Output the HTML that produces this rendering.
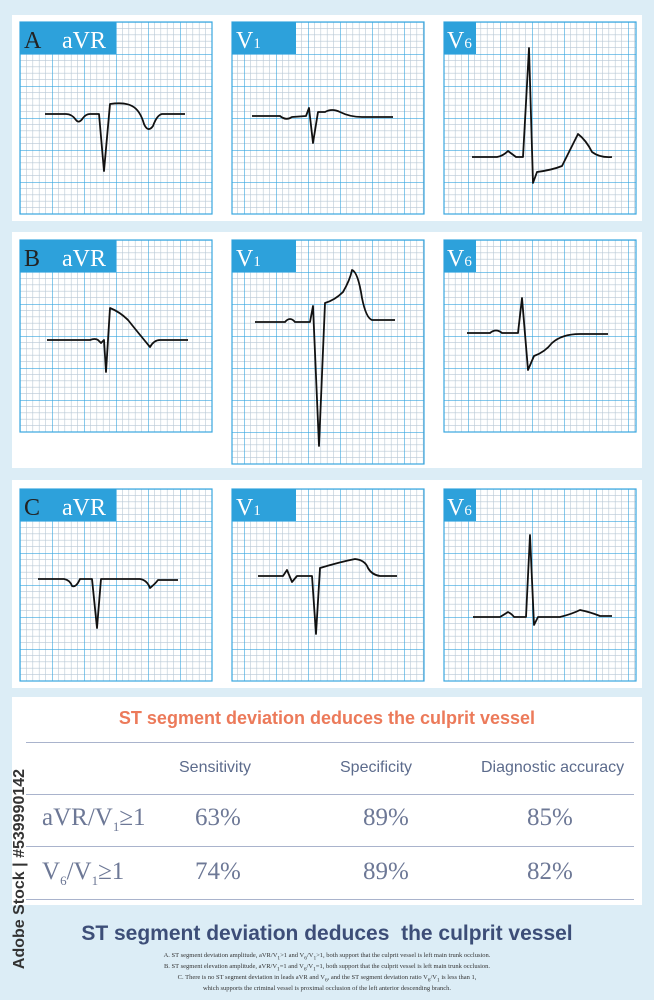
<!DOCTYPE html><html><head><style>
body{margin:0;width:654px;height:1000px;background:#dcedf6;position:relative;overflow:hidden;font-family:"Liberation Sans",sans-serif}
.box{position:absolute;background:#fff;left:12px;width:630px}
.t{position:absolute;white-space:nowrap}
.h{color:#5c6b8c;font-size:16px;top:759px}
.v{font-family:"Liberation Serif",serif;color:#6d7896;font-size:25px}
.ln{position:absolute;left:26px;width:608px;height:1px;background:#a9b3cc}
</style></head><body>
<div class="box" style="top:15px;height:206px"></div>
<div class="box" style="top:232px;height:236px"></div>
<div class="box" style="top:480px;height:208px"></div>
<div class="box" style="top:697px;height:208px"></div>
<svg width="654" height="700" style="position:absolute;left:0;top:0">
<defs>
<pattern id="g" width="32" height="32" patternUnits="userSpaceOnUse" x="20" y="22">
<path d="M6.4 0V32M12.8 0V32M19.2 0V32M25.6 0V32M0 6.4H32M0 12.8H32M0 19.2H32M0 25.6H32" stroke="#b8c8d6" stroke-width="0.6"/>
<path d="M0 0V32M0 0H32" stroke="#39a7e0" stroke-width="1.2"/>
</pattern>
<pattern id="g2" width="32" height="32" patternUnits="userSpaceOnUse" x="20" y="240">
<path d="M6.4 0V32M12.8 0V32M19.2 0V32M25.6 0V32M0 6.4H32M0 12.8H32M0 19.2H32M0 25.6H32" stroke="#b8c8d6" stroke-width="0.6"/>
<path d="M0 0V32M0 0H32" stroke="#39a7e0" stroke-width="1.2"/>
</pattern>
<pattern id="g3" width="32" height="32" patternUnits="userSpaceOnUse" x="20" y="489">
<path d="M6.4 0V32M12.8 0V32M19.2 0V32M25.6 0V32M0 6.4H32M0 12.8H32M0 19.2H32M0 25.6H32" stroke="#b8c8d6" stroke-width="0.6"/>
<path d="M0 0V32M0 0H32" stroke="#39a7e0" stroke-width="1.2"/>
</pattern>
</defs>
<g stroke="#39a7e0" stroke-width="1.2">
<rect x="20" y="22" width="192" height="192" fill="url(#g)"/>
<rect x="232" y="22" width="192" height="192" fill="url(#g)"/>
<rect x="444" y="22" width="192" height="192" fill="url(#g)"/>
<rect x="20" y="240" width="192" height="192" fill="url(#g2)"/>
<rect x="232" y="240" width="192" height="224" fill="url(#g2)"/>
<rect x="444" y="240" width="192" height="192" fill="url(#g2)"/>
<rect x="20" y="489" width="192" height="192" fill="url(#g3)"/>
<rect x="232" y="489" width="192" height="192" fill="url(#g3)"/>
<rect x="444" y="489" width="192" height="192" fill="url(#g3)"/>
</g>
<g fill="#2da1db">
<rect x="20" y="22" width="96" height="32"/><rect x="232" y="22" width="64" height="32"/><rect x="444" y="22" width="32" height="32"/>
<rect x="20" y="240" width="96" height="32"/><rect x="232" y="240" width="64" height="32"/><rect x="444" y="240" width="32" height="32"/>
<rect x="20" y="489" width="96" height="32"/><rect x="232" y="489" width="64" height="32"/><rect x="444" y="489" width="32" height="32"/>
</g>
<g font-family="Liberation Serif,serif" font-size="24">
<text x="24" y="48" fill="#222">A</text><text x="62" y="48" fill="#fff">aVR</text><text x="236" y="48" fill="#fff">V<tspan font-size="15">1</tspan></text><text x="447" y="48" fill="#fff">V<tspan font-size="15">6</tspan></text>
<text x="24" y="266" fill="#222">B</text><text x="62" y="266" fill="#fff">aVR</text><text x="236" y="266" fill="#fff">V<tspan font-size="15">1</tspan></text><text x="447" y="266" fill="#fff">V<tspan font-size="15">6</tspan></text>
<text x="24" y="515" fill="#222">C</text><text x="62" y="515" fill="#fff">aVR</text><text x="236" y="515" fill="#fff">V<tspan font-size="15">1</tspan></text><text x="447" y="515" fill="#fff">V<tspan font-size="15">6</tspan></text>
</g>
<g fill="none" stroke="#111" stroke-width="1.8" stroke-linejoin="round">
<path d="M45 114H66Q72 114 76 120Q79 124 83 118Q86 114 90 114H99L104 171L110 104Q125 102 132 106Q140 110 144 124Q148 133 153 126Q157 115 162 114H185"/>
<path d="M252 116H280Q286 121 292 117L306 116L309 108L313 143L318 112L325 112Q332 108 340 112Q350 117 362 117H393"/>
<path d="M472 157H497Q503 156 508 151Q512 154 516 157H523L529 48L533 183L537 172Q552 170 562 166Q570 150 578 134Q586 140 592 152Q600 158 612 157"/>
<path d="M47 340H90Q95 338 98 340L101 343L104 340L106 372L110 308Q120 312 128 320Q140 335 150 347Q154 340 160 340H188"/>
<path d="M255 322H285Q290 316 295 322H310L313 306L319 446L325 303Q335 300 343 292Q350 280 352 270Q358 272 362 298Q366 318 372 320H395"/>
<path d="M467 333H490Q496 328 502 333H518L522 298L528 370L534 356Q545 352 552 343Q562 334 580 334H608"/>
<path d="M38 579H64Q70 580 72 586Q76 588 80 579H92L97 628L101 579H140Q147 580 150 588Q155 584 158 580H178"/>
<path d="M258 576H283L287 570L292 582L297 576H312L316 634L320 568Q340 562 355 559Q365 560 368 568Q372 575 380 576H397"/>
<path d="M473 617H500Q505 614 508 612Q512 614 514 617H526L530 535L534 625L538 617H560Q572 614 580 610Q590 612 600 616H612"/>
</g>
</svg>
<div class="t" style="top:708px;left:0;width:654px;text-align:center;color:#ec7a5a;font-weight:bold;font-size:18px">ST segment deviation deduces the culprit vessel</div>
<div class="ln" style="top:742px"></div><div class="ln" style="top:794px"></div><div class="ln" style="top:846px"></div><div class="ln" style="top:899px"></div>
<div class="t h" style="left:179px">Sensitivity</div>
<div class="t h" style="left:340px">Specificity</div>
<div class="t h" style="left:481px">Diagnostic accuracy</div>
<div class="t v" style="left:42px;top:804px">aVR/V<sub style="font-size:13px">1</sub>≥1</div>
<div class="t v" style="left:195px;top:804px">63%</div><div class="t v" style="left:363px;top:804px">89%</div><div class="t v" style="left:527px;top:804px">85%</div>
<div class="t v" style="left:42px;top:858px">V<sub style="font-size:13px">6</sub>/V<sub style="font-size:13px">1</sub>≥1</div>
<div class="t v" style="left:195px;top:858px">74%</div><div class="t v" style="left:363px;top:858px">89%</div><div class="t v" style="left:527px;top:858px">82%</div>
<div class="t" style="top:922px;left:0;width:654px;text-align:center;color:#3d4e78;font-weight:bold;font-size:21px">ST segment deviation deduces&nbsp; the culprit vessel</div>
<div class="t" style="top:952px;left:0;width:654px;text-align:center;color:#333;font-family:'Liberation Serif',serif;font-size:6.5px;line-height:8.8px">A. ST segment deviation amplitude, aVR/V<sub>1</sub>&gt;1 and V<sub>6</sub>/V<sub>1</sub>&gt;1, both support that the culprit vessel is left main trunk occlusion.<br>B. ST segment elevation amplitude, aVR/V<sub>1</sub>=1 and V<sub>6</sub>/V<sub>1</sub>=1, both support that the culprit vessel is left main trunk occlusion.<br>C. There is no ST segment deviation in leads aVR and V<sub>6</sub>, and the ST segment deviation ratio V<sub>6</sub>/V<sub>1</sub> is less than 1,<br>which supports the criminal vessel is proximal occlusion of the left anterior descending branch.</div>
<div class="t" style="left:-95px;top:860px;transform:rotate(-90deg);color:#333;font-size:16px;font-weight:bold;width:230px;text-align:center">Adobe Stock | #539990142</div>
</body></html>
